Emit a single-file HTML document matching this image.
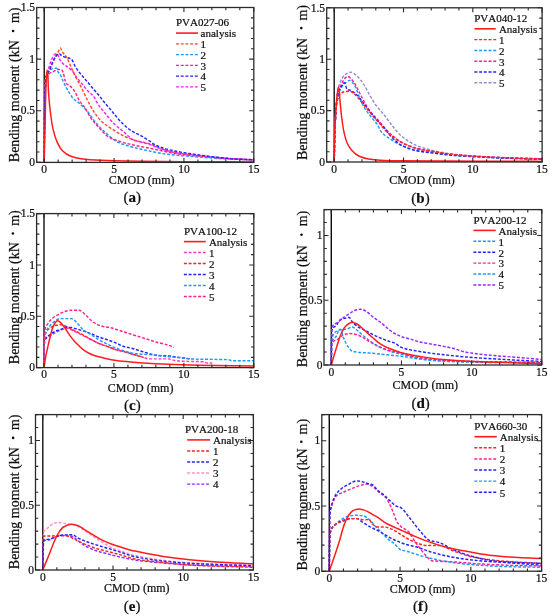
<!DOCTYPE html>
<html><head><meta charset="utf-8"><title>Bending moment vs CMOD</title>
<style>html,body{margin:0;padding:0;background:#fff;width:550px;height:616px;overflow:hidden}
svg text{font-family:"Liberation Serif", serif;stroke:#111;stroke-width:0.22px;paint-order:stroke}</style></head>
<body>
<svg width="550" height="616" viewBox="0 0 550 616" style="display:block">
<defs><filter id="bl" x="0" y="0" width="1" height="1"><feGaussianBlur stdDeviation="0.33"/></filter></defs>
<rect width="550" height="616" fill="#fff"/>
<g filter="url(#bl)">
<g><clipPath id="clipa"><rect x="36.7" y="7.5" width="217.1" height="154.9"/></clipPath>
<g clip-path="url(#clipa)" fill="none" stroke-linejoin="round">
<line x1="44.2" y1="7.5" x2="44.2" y2="162.4" stroke="#111" stroke-width="1.4"/>
<path d="M44.2 162.4C44.34 145.19 44.48 118.41 44.62 110.77C44.95 92.93 45.27 81.56 45.6 79.79C46.95 72.42 48.3 70.86 49.65 69.98C50.91 69.15 52.16 68.72 53.42 68.53C54.49 68.37 55.56 68.22 56.64 68.22C57.15 68.22 57.66 71.17 58.17 72.04C58.92 73.31 59.66 73.63 60.41 74.83C61.34 76.33 62.27 79.3 63.2 81.34C64.28 83.68 65.35 85.96 66.42 87.94C67.68 90.27 68.93 92.28 70.19 94.24C71.12 95.7 72.05 97.39 72.99 98.37C74.99 100.49 76.99 101.28 78.99 103.02C81.88 105.53 84.77 108.48 87.66 111.8C90.59 115.17 93.53 120.1 96.46 123.47C99.81 127.32 103.17 130.68 106.52 133.59C110.39 136.94 114.25 140.57 118.12 142.37C122.5 144.4 126.88 145.48 131.25 146.7C137.31 148.4 143.36 149.76 149.42 151.04C153.94 151.99 158.46 152.95 162.97 153.62C167.17 154.25 171.36 154.76 175.55 155.17C182.07 155.81 188.59 156.2 195.11 156.72C201.63 157.24 208.15 157.86 214.67 158.27C221.43 158.69 228.18 159.03 234.94 159.3C241.22 159.55 247.51 159.72 253.8 159.92" stroke="#1e98ff" stroke-width="1.45" stroke-dasharray="3 1.7"/>
<path d="M44.2 162.4C44.34 145.19 44.48 117.22 44.62 110.77C45.04 91.4 45.46 81.53 45.88 79.79C46.9 75.52 47.93 74.52 48.95 73.69C50.44 72.49 51.93 72.27 53.42 71.53C54.82 70.83 56.22 69.36 57.61 69.36C58.92 69.36 60.22 69.44 61.53 69.67C62.09 69.76 62.64 71.24 63.2 72.66C63.72 73.96 64.23 77.63 64.74 79.27C65.3 81.06 65.86 82.85 66.42 83.5C67.49 84.76 68.56 84.9 69.63 85.78C70.75 86.7 71.87 87.71 72.99 89.08C74.06 90.39 75.13 92.29 76.2 94.24C77.13 95.95 78.06 98.6 78.99 100.13C80.9 103.26 82.81 104.66 84.72 107.46C86.68 110.33 88.64 114.81 90.59 117.58C93.48 121.68 96.37 124.68 99.25 127.81C102.14 130.93 105.03 134.71 107.92 136.48C111.32 138.57 114.72 139.76 118.12 140.92C122.5 142.41 126.88 143.51 131.25 144.53C137.31 145.95 143.36 146.9 149.42 148.15C153.94 149.08 158.46 150.1 162.97 151.04C167.17 151.92 171.36 153.02 175.55 153.62C182.07 154.55 188.59 155.06 195.11 155.69C201.63 156.32 208.15 156.95 214.67 157.44C221.43 157.96 228.18 158.4 234.94 158.79C241.22 159.14 247.51 159.41 253.8 159.72" stroke="#ff2090" stroke-width="1.45" stroke-dasharray="3 1.7"/>
<path d="M44.2 162.4C44.34 145.19 44.48 118.78 44.62 110.77C44.95 92.06 45.27 79.06 45.6 77.72C46.53 73.91 47.46 74.44 48.39 72.56C49.32 70.68 50.26 68.43 51.19 66.36C52.58 63.26 53.98 59.87 55.38 57.07C56.31 55.2 57.24 53.56 58.17 51.9C58.92 50.58 59.66 48.08 60.41 48.08C61.06 48.08 61.71 50.87 62.37 51.9C63.72 54.04 65.07 54.91 66.42 57.07C67.49 58.78 68.56 61.43 69.63 63.78C70.75 66.23 71.87 69.09 72.99 71.53C74.06 73.86 75.13 76.12 76.2 78.13C77.32 80.23 78.43 81.84 79.55 83.92C80.58 85.82 81.6 88 82.63 90.11C84.26 93.47 85.89 97.32 87.52 100.44C89.99 105.17 92.45 109.74 94.92 113.25C97.35 116.69 99.77 119.83 102.19 122.02C105.59 125.11 108.99 127.06 112.39 129.25C116.26 131.74 120.12 134.22 123.99 136.07C127.39 137.69 130.79 139.16 134.19 140.2C139.27 141.74 144.34 142.25 149.42 143.81C153.47 145.06 157.52 147.67 161.58 148.98C166.23 150.48 170.89 151.76 175.55 152.59C182.07 153.75 188.59 154.41 195.11 155.17C201.63 155.94 208.15 156.6 214.67 157.24C221.43 157.9 228.18 158.63 234.94 159.1C241.22 159.53 247.51 159.78 253.8 160.13" stroke="#ff4a2a" stroke-width="1.45" stroke-dasharray="3 1.7"/>
<path d="M44.2 162.4C44.34 145.19 44.48 116.32 44.62 110.77C45.18 88.56 45.74 81.49 46.3 77.72C46.99 73.02 47.69 71.92 48.39 69.46C49.32 66.19 50.26 62.84 51.19 60.68C52.3 58.09 53.42 55.42 54.54 54.59C55.24 54.07 55.94 53.56 56.64 53.56C57.71 53.56 58.78 57.79 59.85 59.55C60.6 60.77 61.34 62.07 62.09 62.85C63.53 64.36 64.97 65.03 66.42 66.16C68.23 67.57 70.05 68.65 71.87 70.49C73.68 72.34 75.5 75.75 77.32 78.13C78.76 80.03 80.2 81.76 81.65 83.5C83.84 86.15 86.03 88.87 88.22 91.25C90.36 93.58 92.5 94.62 94.64 97.76C95.25 98.64 95.85 100.53 96.46 101.58C99.35 106.56 102.24 109.61 105.12 113.25C108.01 116.88 110.9 120.6 113.79 123.47C117.19 126.84 120.59 129.26 123.99 132.14C126.88 134.59 129.76 138.16 132.65 139.47C138.24 142.02 143.83 142.47 149.42 144.33C153.47 145.67 157.52 147.69 161.58 148.98C166.05 150.39 170.52 151.79 174.99 152.59C181.7 153.78 188.4 154.39 195.11 155.17C201.63 155.93 208.15 156.62 214.67 157.24C221.43 157.88 228.18 158.6 234.94 158.99C241.22 159.36 247.51 159.54 253.8 159.82" stroke="#ff1eff" stroke-width="1.45" stroke-dasharray="3 1.7"/>
<path d="M44.2 162.4C44.34 145.19 44.48 116.32 44.62 110.77C45.18 88.56 45.74 80.32 46.3 77.72C47.46 72.31 48.62 72.34 49.79 69.46C50.72 67.15 51.65 64.24 52.58 62.23C53.52 60.22 54.45 58.32 55.38 57.07C56.5 55.56 57.61 53.56 58.73 53.56C59.94 53.56 61.15 55.45 62.37 56.04C63.76 56.71 65.16 57.1 66.56 57.58C68.14 58.13 69.72 58.23 71.31 59.13C72.57 59.85 73.82 64.09 75.08 66.16C76.57 68.6 78.06 70.71 79.55 72.66C81.7 75.46 83.84 77.66 85.98 80.2C88.17 82.79 90.36 85.48 92.55 88.05C94.74 90.61 96.93 92.91 99.12 95.59C100.65 97.47 102.19 99.67 103.73 101.58C106.61 105.16 109.5 108.39 112.39 111.8C115.28 115.21 118.17 119.16 121.05 122.02C124.45 125.4 127.85 128.54 131.25 130.7C134.14 132.53 137.03 133.53 139.92 135.14C143.08 136.9 146.25 138.84 149.42 140.92C151.33 142.17 153.24 144.07 155.15 144.95C161.76 147.99 168.38 149.62 174.99 151.04C181.65 152.47 188.31 153.35 194.97 154.35C201.54 155.33 208.11 156.29 214.67 157.03C221.43 157.8 228.18 158.62 234.94 158.99C241.22 159.34 247.51 159.47 253.8 159.72" stroke="#2424ff" stroke-width="1.45" stroke-dasharray="3 1.7"/>
<path d="M44.2 162.4C44.48 150.35 44.76 138.18 45.04 126.26C45.36 112.34 45.69 92.28 46.02 84.95C46.34 77.62 46.67 69.98 46.99 69.98C47.23 69.98 47.46 71.1 47.69 72.56C47.97 74.3 48.25 87.8 48.53 92.18C49.09 100.93 49.65 106.05 50.21 110.77C51.09 118.24 51.98 124.38 52.86 128.32C54.26 134.54 55.66 138.75 57.06 141.85C58.78 145.67 60.5 148.7 62.23 150.42C65.07 153.25 67.91 155.14 70.75 156.2C74.15 157.47 77.55 158.29 80.95 158.79C83.98 159.22 87 159.52 90.03 159.72C98.04 160.23 106.06 160.54 114.07 160.75C123.38 160.99 132.7 161.14 142.01 161.26C155.99 161.45 169.96 161.61 183.93 161.68C207.22 161.79 230.51 161.81 253.8 161.88" stroke="#ff1c1c" stroke-width="1.5"/>
</g>
<rect x="36.7" y="7.5" width="217.1" height="154.9" fill="none" stroke="#2a2a2a" stroke-width="1.3"/>
<path d="M44.2 162.4v-4.5M44.2 7.5v4.5M58.17 162.4v-2.8M58.17 7.5v2.8M72.15 162.4v-2.8M72.15 7.5v2.8M86.12 162.4v-2.8M86.12 7.5v2.8M100.09 162.4v-2.8M100.09 7.5v2.8M114.07 162.4v-4.5M114.07 7.5v4.5M128.04 162.4v-2.8M128.04 7.5v2.8M142.01 162.4v-2.8M142.01 7.5v2.8M155.99 162.4v-2.8M155.99 7.5v2.8M169.96 162.4v-2.8M169.96 7.5v2.8M183.93 162.4v-4.5M183.93 7.5v4.5M197.91 162.4v-2.8M197.91 7.5v2.8M211.88 162.4v-2.8M211.88 7.5v2.8M225.85 162.4v-2.8M225.85 7.5v2.8M239.83 162.4v-2.8M239.83 7.5v2.8M253.8 162.4v-4.5M253.8 7.5v4.5M36.7 162.4h4.5M253.8 162.4h-4.5M36.7 152.07h2.8M253.8 152.07h-2.8M36.7 141.75h2.8M253.8 141.75h-2.8M36.7 131.42h2.8M253.8 131.42h-2.8M36.7 121.09h2.8M253.8 121.09h-2.8M36.7 110.77h4.5M253.8 110.77h-4.5M36.7 100.44h2.8M253.8 100.44h-2.8M36.7 90.11h2.8M253.8 90.11h-2.8M36.7 79.79h2.8M253.8 79.79h-2.8M36.7 69.46h2.8M253.8 69.46h-2.8M36.7 59.13h4.5M253.8 59.13h-4.5M36.7 48.81h2.8M253.8 48.81h-2.8M36.7 38.48h2.8M253.8 38.48h-2.8M36.7 28.15h2.8M253.8 28.15h-2.8M36.7 17.83h2.8M253.8 17.83h-2.8M36.7 7.5h4.5M253.8 7.5h-4.5" stroke="#2a2a2a" stroke-width="1.1" fill="none"/>
<g font-size="11.5" fill="#111"><text x="44.2" y="172.9" text-anchor="middle">0</text><text x="114.07" y="172.9" text-anchor="middle">5</text><text x="183.93" y="172.9" text-anchor="middle">10</text><text x="253.8" y="172.9" text-anchor="middle">15</text><text x="35.1" y="166.1" text-anchor="end">0</text><text x="35.1" y="114.47" text-anchor="end">0.5</text><text x="35.1" y="62.83" text-anchor="end">1</text><text x="35.1" y="11.2" text-anchor="end">1.5</text></g>
<text transform="translate(18.5 162.2) rotate(-90)" font-size="14" fill="#111">Bending moment (kN</text>
<circle cx="13.1" cy="31" r="1.3" fill="#111"/>
<text transform="translate(18.5 23.1) rotate(-90)" font-size="14" fill="#111">m)</text>
<text x="141.7" y="184.4" text-anchor="middle" font-size="12" fill="#111">CMOD (mm)</text>
<text x="132.2" y="201.8" text-anchor="middle" font-size="15" fill="#111">(<tspan font-weight="bold">a</tspan>)</text>
<g font-size="11" fill="#111" style="font-kerning:none"><text x="175.9" y="26.1">PVA027-06</text><line x1="176" y1="33.1" x2="198" y2="33.1" stroke="#ff1c1c" stroke-width="1.6"/><text x="200.6" y="37.4">analysis</text><line x1="176" y1="43.85" x2="198.2" y2="43.85" stroke="#ff4a2a" stroke-width="1.45" stroke-dasharray="3 1.7"/><text x="200.6" y="48.15">1</text><line x1="176" y1="54.6" x2="198.2" y2="54.6" stroke="#1e98ff" stroke-width="1.45" stroke-dasharray="3 1.7"/><text x="200.6" y="58.9">2</text><line x1="176" y1="65.35" x2="198.2" y2="65.35" stroke="#ff2090" stroke-width="1.45" stroke-dasharray="3 1.7"/><text x="200.6" y="69.65">3</text><line x1="176" y1="76.1" x2="198.2" y2="76.1" stroke="#2424ff" stroke-width="1.45" stroke-dasharray="3 1.7"/><text x="200.6" y="80.4">4</text><line x1="176" y1="86.85" x2="198.2" y2="86.85" stroke="#ff1eff" stroke-width="1.45" stroke-dasharray="3 1.7"/><text x="200.6" y="91.15">5</text></g></g>
<g><clipPath id="clipb"><rect x="326.7" y="7.8" width="215.4" height="154.2"/></clipPath>
<g clip-path="url(#clipb)" fill="none" stroke-linejoin="round">
<line x1="334.2" y1="7.8" x2="334.2" y2="162" stroke="#111" stroke-width="1.4"/>
<path d="M334.2 162C334.43 151.72 334.66 137.37 334.89 131.16C335.59 112.52 336.28 100.14 336.97 95.18C337.8 89.23 338.64 86.39 339.47 84.18C341.13 79.77 342.79 76.67 344.46 75.34C346.58 73.64 348.71 72.15 350.83 72.15C353 72.15 355.17 74.59 357.35 76.47C359.43 78.27 361.5 81.14 363.58 84.18C365.71 87.29 367.83 92 369.96 95.59C372.08 99.18 374.21 102.88 376.33 105.77C378.88 109.22 381.42 111.54 383.96 114.71C386.27 117.6 388.58 121.11 390.89 123.96C394.54 128.47 398.19 133.43 401.84 136.4C406.69 140.36 411.54 143.46 416.39 145.45C422.44 147.93 428.49 149.53 434.55 150.9C440.6 152.27 446.65 153.45 452.7 154.19C461.2 155.22 469.7 155.96 478.21 156.45C487.95 157.01 497.7 157.34 507.45 157.68C519 158.09 530.55 158.37 542.1 158.71" stroke="#8e8ed0" stroke-width="1.45" stroke-dasharray="3 1.7"/>
<path d="M334.2 162C334.43 151.72 334.66 136.77 334.89 131.16C335.59 114.34 336.28 104.02 336.97 100.32C338.36 92.92 339.74 90.4 341.13 87.98C342.52 85.57 343.9 83.93 345.29 82.84C346.72 81.72 348.15 80.38 349.58 80.38C351.29 80.38 353 83.07 354.71 85.52C356.42 87.96 358.13 94.44 359.84 98.26C361.5 101.99 363.17 105.71 364.83 108.44C367 112.01 369.17 114.36 371.34 117.28C373.89 120.7 376.43 122.53 378.97 127.46C379.29 128.09 379.61 129.54 379.94 130.03C383.59 135.53 387.24 136.91 390.89 139.38C394.54 141.86 398.19 144.05 401.84 145.55C406.69 147.55 411.54 149.21 416.39 150.18C422.44 151.38 428.49 151.91 434.55 152.75C440.6 153.59 446.65 154.67 452.7 155.22C461.2 155.97 469.7 156.38 478.21 156.86C487.95 157.41 497.7 157.94 507.45 158.3C519 158.73 530.55 158.98 542.1 159.33" stroke="#1e98ff" stroke-width="1.45" stroke-dasharray="3 1.7"/>
<path d="M334.2 162C334.43 151.72 334.66 137.02 334.89 131.16C335.59 113.59 336.28 102.26 336.97 98.26C338.36 90.27 339.74 88.05 341.13 84.9C342.28 82.28 343.44 79.93 344.59 78.73C345.61 77.68 346.63 76.47 347.64 76.47C349.58 76.47 351.52 79.29 353.47 81.61C355.13 83.6 356.79 87.42 358.45 90.55C360.16 93.77 361.87 97.69 363.58 100.73C365.71 104.51 367.83 108.07 369.96 110.91C372.96 114.92 375.96 117.6 378.97 121.09C381.09 123.56 383.22 126.38 385.34 128.69C387.19 130.7 389.04 132.63 390.89 134.24C394.54 137.43 398.19 140.57 401.84 142.47C406.69 144.99 411.54 146.83 416.39 148.12C422.44 149.73 428.49 150.72 434.55 151.72C440.6 152.72 446.65 153.66 452.7 154.29C461.2 155.18 469.7 155.8 478.21 156.35C487.95 156.97 497.7 157.51 507.45 157.89C519 158.33 530.55 158.57 542.1 158.92" stroke="#ff2090" stroke-width="1.45" stroke-dasharray="3 1.7"/>
<path d="M334.2 162C334.43 151.72 334.66 136.77 334.89 131.16C335.59 114.34 336.28 104.51 336.97 100.32C338.13 93.33 339.28 90.18 340.44 87.98C341.78 85.43 343.12 82.84 344.46 82.84C345.33 82.84 346.21 88.79 347.09 89.32C348.34 90.08 349.58 90 350.83 90.55C353 91.52 355.17 93.52 357.35 95.59C359.43 97.57 361.5 100.66 363.58 103.3C366.17 106.59 368.76 110.27 371.34 113.48C373.89 116.62 376.43 119.68 378.97 122.42C380.63 124.22 382.29 125.6 383.96 127.46C386.27 130.05 388.58 133.92 390.89 136.3C394.54 140.07 398.19 143.7 401.84 145.55C406.69 148.02 411.54 149.7 416.39 150.69C422.44 151.93 428.49 152.5 434.55 153.26C440.6 154.02 446.65 154.83 452.7 155.32C461.2 156 469.7 156.42 478.21 156.86C487.95 157.37 497.7 157.87 507.45 158.2C519 158.59 530.55 158.81 542.1 159.12" stroke="#2424ff" stroke-width="1.45" stroke-dasharray="3 1.7"/>
<path d="M334.2 162C334.43 151.72 334.66 136.51 334.89 131.16C335.59 115.12 336.28 105.43 336.97 102.38C338.22 96.87 339.47 94.21 340.71 93.33C341.96 92.45 343.21 92.03 344.46 91.79C346.17 91.46 347.88 91.17 349.58 91.17C350.88 91.17 352.17 92.26 353.47 93.12C355.13 94.23 356.79 96.4 358.45 98.26C360.16 100.17 361.87 102.43 363.58 104.53C365.29 106.64 367 108.83 368.71 110.91C370.84 113.5 372.96 116.14 375.09 118.52C376.7 120.33 378.32 121.7 379.94 123.66C380.86 124.77 381.79 126.39 382.71 127.46C385.44 130.62 388.16 133.1 390.89 135.27C394.54 138.19 398.19 140.79 401.84 142.67C406.69 145.18 411.54 147.45 416.39 148.64C422.44 150.11 428.49 150.75 434.55 151.72C440.6 152.69 446.65 153.87 452.7 154.5C461.2 155.38 469.7 155.94 478.21 156.45C487.95 157.04 497.7 157.52 507.45 157.89C519 158.32 530.55 158.57 542.1 158.92" stroke="#ff2424" stroke-width="1.45" stroke-dasharray="3 1.7"/>
<path d="M334.2 162C334.34 153.43 334.48 141.45 334.62 136.3C334.85 127.72 335.08 123.17 335.31 118.82C335.59 113.6 335.86 109.89 336.14 106.49C336.65 100.26 337.16 94.33 337.66 91.07C337.94 89.29 338.22 86.96 338.5 86.96C338.73 86.96 338.96 88.53 339.19 90.04C339.47 91.85 339.74 97.74 340.02 100.94C340.53 106.79 341.04 112.16 341.55 116.25C342.33 122.57 343.12 128.02 343.9 131.67C344.92 136.4 345.93 140.13 346.95 142.47C348.52 146.08 350.09 148.45 351.66 150.18C354.2 152.97 356.75 155.15 359.29 156.24C362.38 157.57 365.48 158.42 368.57 158.92C372.36 159.52 376.15 159.98 379.94 160.15C387.79 160.51 395.65 160.67 403.5 160.77C417.36 160.94 431.22 160.99 445.08 161.07C458.94 161.16 472.8 161.24 486.66 161.28C505.14 161.33 523.62 161.35 542.1 161.38" stroke="#ff1c1c" stroke-width="1.5"/>
</g>
<rect x="326.7" y="7.8" width="215.4" height="154.2" fill="none" stroke="#2a2a2a" stroke-width="1.3"/>
<path d="M334.2 162v-4.5M334.2 7.8v4.5M348.06 162v-2.8M348.06 7.8v2.8M361.92 162v-2.8M361.92 7.8v2.8M375.78 162v-2.8M375.78 7.8v2.8M389.64 162v-2.8M389.64 7.8v2.8M403.5 162v-4.5M403.5 7.8v4.5M417.36 162v-2.8M417.36 7.8v2.8M431.22 162v-2.8M431.22 7.8v2.8M445.08 162v-2.8M445.08 7.8v2.8M458.94 162v-2.8M458.94 7.8v2.8M472.8 162v-4.5M472.8 7.8v4.5M486.66 162v-2.8M486.66 7.8v2.8M500.52 162v-2.8M500.52 7.8v2.8M514.38 162v-2.8M514.38 7.8v2.8M528.24 162v-2.8M528.24 7.8v2.8M542.1 162v-4.5M542.1 7.8v4.5M326.7 162h4.5M542.1 162h-4.5M326.7 151.72h2.8M542.1 151.72h-2.8M326.7 141.44h2.8M542.1 141.44h-2.8M326.7 131.16h2.8M542.1 131.16h-2.8M326.7 120.88h2.8M542.1 120.88h-2.8M326.7 110.6h4.5M542.1 110.6h-4.5M326.7 100.32h2.8M542.1 100.32h-2.8M326.7 90.04h2.8M542.1 90.04h-2.8M326.7 79.76h2.8M542.1 79.76h-2.8M326.7 69.48h2.8M542.1 69.48h-2.8M326.7 59.2h4.5M542.1 59.2h-4.5M326.7 48.92h2.8M542.1 48.92h-2.8M326.7 38.64h2.8M542.1 38.64h-2.8M326.7 28.36h2.8M542.1 28.36h-2.8M326.7 18.08h2.8M542.1 18.08h-2.8M326.7 7.8h4.5M542.1 7.8h-4.5" stroke="#2a2a2a" stroke-width="1.1" fill="none"/>
<g font-size="11.5" fill="#111"><text x="334.2" y="172.5" text-anchor="middle">0</text><text x="403.5" y="172.5" text-anchor="middle">5</text><text x="472.8" y="172.5" text-anchor="middle">10</text><text x="542.1" y="172.5" text-anchor="middle">15</text><text x="325.1" y="165.7" text-anchor="end">0</text><text x="325.1" y="114.3" text-anchor="end">0.5</text><text x="325.1" y="62.9" text-anchor="end">1</text><text x="325.1" y="11.5" text-anchor="end">1.5</text></g>
<text transform="translate(306.5 160) rotate(-90)" font-size="14" fill="#111">Bending moment (kN</text>
<circle cx="301.3" cy="28.1" r="1.3" fill="#111"/>
<text transform="translate(306.5 20.6) rotate(-90)" font-size="14" fill="#111">m)</text>
<text x="422" y="184.2" text-anchor="middle" font-size="12" fill="#111">CMOD (mm)</text>
<text x="420.5" y="202.7" text-anchor="middle" font-size="15" fill="#111">(<tspan font-weight="bold">b</tspan>)</text>
<g font-size="11" fill="#111" style="font-kerning:none"><text x="474.2" y="22">PVA040-12</text><line x1="474.4" y1="28.8" x2="495.7" y2="28.8" stroke="#ff1c1c" stroke-width="1.6"/><text x="498.9" y="33.1">Analysis</text><line x1="474.4" y1="39.6" x2="496.6" y2="39.6" stroke="#ff2424" stroke-width="1.45" stroke-dasharray="3 1.7"/><text x="498.9" y="43.9">1</text><line x1="474.4" y1="50.4" x2="496.6" y2="50.4" stroke="#1e98ff" stroke-width="1.45" stroke-dasharray="3 1.7"/><text x="498.9" y="54.7">2</text><line x1="474.4" y1="61.2" x2="496.6" y2="61.2" stroke="#ff2090" stroke-width="1.45" stroke-dasharray="3 1.7"/><text x="498.9" y="65.5">3</text><line x1="474.4" y1="72" x2="496.6" y2="72" stroke="#2424ff" stroke-width="1.45" stroke-dasharray="3 1.7"/><text x="498.9" y="76.3">4</text><line x1="474.4" y1="82.8" x2="496.6" y2="82.8" stroke="#8e8ed0" stroke-width="1.45" stroke-dasharray="3 1.7"/><text x="498.9" y="87.1">5</text></g></g>
<g><clipPath id="clipc"><rect x="36.6" y="213.6" width="217.2" height="154"/></clipPath>
<g clip-path="url(#clipc)" fill="none" stroke-linejoin="round">
<line x1="44" y1="213.6" x2="44" y2="367.6" stroke="#111" stroke-width="1.4"/>
<path d="M44 367.6C44.09 360.76 44.19 350.23 44.28 347.07C44.37 343.91 44.47 341.13 44.56 340.91C46.24 336.92 47.92 337.64 49.59 336.39C51.55 334.93 53.51 333.77 55.47 332.69C57.43 331.62 59.39 330.46 61.34 329.82C63.3 329.18 65.26 328.38 67.22 328.38C69.13 328.38 71.04 329.72 72.95 330.54C75.89 331.79 78.83 333.5 81.76 334.95C84.7 336.41 87.64 337.82 90.58 339.26C93.47 340.69 96.36 342.4 99.25 343.58C102.14 344.75 105.03 345.5 107.92 346.55C111.09 347.71 114.26 349.55 117.43 350.25C118.88 350.57 120.32 350.67 121.77 350.97C125.68 351.77 129.6 353.44 133.51 354.56C136.92 355.54 140.32 356.27 143.72 357.33C145.17 357.79 146.62 358.87 148.06 358.87C154.87 358.87 161.67 358.87 168.48 358.87C170.44 358.87 172.4 360.09 174.36 360.41C176.36 360.74 178.37 361.02 180.37 361.13C188.2 361.56 196.04 361.29 203.87 361.85C205.03 361.93 206.2 363.08 207.36 363.08C209 363.08 210.63 363.08 212.26 363.08" stroke="#ff38c8" stroke-width="1.45" stroke-dasharray="3 1.7"/>
<path d="M44 367.6C44.09 360.07 44.19 349.03 44.28 345.01C44.37 341 44.47 337.2 44.56 336.8C46.24 329.56 47.92 329.67 49.59 328.38C51.55 326.88 53.51 325.93 55.47 325.51C57.43 325.08 59.39 324.69 61.34 324.69C63.3 324.69 65.26 326.09 67.22 326.94C69.13 327.78 71.04 328.86 72.95 329.82C75.89 331.29 78.83 332.67 81.76 334.23C84.7 335.8 87.64 337.7 90.58 339.26C93.47 340.8 96.36 342.36 99.25 343.58C102.65 345.01 106.05 346.04 109.46 347.27C112.12 348.23 114.77 349.4 117.43 350.15C118.88 350.55 120.32 350.8 121.77 351.17C125.68 352.18 129.6 353.43 133.51 354.56C136.92 355.55 140.32 356.55 143.72 357.54" stroke="#ff2424" stroke-width="1.45" stroke-dasharray="3 1.7"/>
<path d="M44 367.6C44.09 360.76 44.19 350.31 44.28 347.07C44.37 343.83 44.47 340.98 44.56 340.7C46.24 335.7 47.92 336.32 49.59 334.95C51.55 333.35 53.51 332.16 55.47 331.26C57.43 330.35 59.39 329.82 61.34 329.1C63.3 328.38 65.26 326.94 67.22 326.94C69.64 326.94 72.07 327.81 74.49 328.38C76.92 328.96 79.34 329.77 81.76 330.54C84.7 331.46 87.64 332.42 90.58 333.51C93.47 334.59 96.36 336.04 99.25 337.11C102.14 338.17 105.03 338.96 107.92 339.98C111.09 341.1 114.26 342.16 117.43 343.58C118.88 344.22 120.32 345.33 121.77 345.83C125.68 347.22 129.6 347.63 133.51 348.71C137.38 349.78 141.25 351.33 145.12 352.41C148.99 353.48 152.86 354.9 156.73 355.28C160.65 355.66 164.57 355.67 168.48 356C172.35 356.32 176.22 357.04 180.09 357.54C183.87 358.03 187.64 358.5 191.42 358.98" stroke="#2424ff" stroke-width="1.45" stroke-dasharray="3 1.7"/>
<path d="M44 367.6C44.09 360.07 44.19 348.65 44.28 345.01C44.37 341.38 44.47 338.35 44.56 337.83C46.24 328.37 47.92 328.53 49.59 326.23C51.09 324.18 52.58 322.88 54.07 321.81C55.98 320.44 57.89 318.63 59.8 318.63C63.72 318.63 67.64 318.63 71.55 318.63C73.51 318.63 75.47 321.51 77.43 323.35C79.34 325.15 81.25 328.31 83.16 329.82C85.63 331.77 88.1 332.69 90.58 334.23C93.47 336.04 96.36 338.32 99.25 339.98C102.14 341.65 105.03 343.01 107.92 344.4C111.09 345.92 114.26 347.47 117.43 348.71C118.88 349.28 120.32 349.81 121.77 350.25C126.61 351.71 131.46 353.38 136.31 353.84C140.23 354.22 144.14 354.27 148.06 354.56C154.87 355.08 161.67 356.12 168.48 356.72C172.44 357.07 176.41 357.27 180.37 357.64C184.05 357.99 187.74 358.83 191.42 358.98C196.04 359.15 200.65 359.19 205.27 359.28C213.05 359.44 220.84 359.35 228.62 359.69C229.6 359.74 230.58 360.72 231.56 360.72C239.91 360.72 248.25 360.72 256.6 360.72" stroke="#1e98ff" stroke-width="1.45" stroke-dasharray="3 1.7"/>
<path d="M44 367.6C44.09 359.04 44.19 346.72 44.28 341.93C44.37 337.15 44.47 332.53 44.56 331.97C45.77 324.79 46.98 325.28 48.2 323.35C49.64 321.05 51.09 319.42 52.53 318.22C54.49 316.58 56.45 315.6 58.41 314.52C60.36 313.44 62.32 312.21 64.28 311.65C66.71 310.95 69.13 310.21 71.55 310.21C73.98 310.21 76.4 310.21 78.83 310.21C81.25 310.21 83.68 313.34 86.1 315.34C88.29 317.15 90.48 320.4 92.67 321.81C95.84 323.86 99.01 325.46 102.18 326.23C104.84 326.87 107.5 326.99 110.16 327.56C114.03 328.39 117.9 330.03 121.77 331.26C125.68 332.5 129.6 333.73 133.51 334.95C137.38 336.16 141.25 337.33 145.12 338.55C148.99 339.76 152.86 341.17 156.73 342.24C160.65 343.33 164.57 343.91 168.48 345.12C170.35 345.69 172.21 346.55 174.08 347.27" stroke="#ff2090" stroke-width="1.45" stroke-dasharray="3 1.7"/>
<path d="M44 367.6C44.63 363.6 45.27 358.95 45.9 355.59C46.76 351.04 47.62 347.73 48.48 343.99C48.94 341.95 49.41 339.99 49.87 338.03C50.39 335.88 50.9 333.43 51.41 331.67C51.93 329.91 52.44 328.38 52.95 327.15C53.65 325.47 54.35 323.85 55.05 322.94C55.8 321.97 56.54 320.78 57.29 320.78C58.13 320.78 58.97 321.39 59.8 321.91C60.64 322.44 61.48 323.51 62.32 324.48C63.21 325.51 64.09 326.81 64.98 328.07C66.52 330.27 68.06 333.04 69.6 335.16C71.13 337.27 72.67 339.17 74.21 340.91C75.7 342.59 77.2 344.1 78.69 345.53C80.51 347.26 82.32 349.11 84.14 350.35C87.08 352.35 90.02 353.99 92.95 355.07C96.82 356.5 100.69 357.38 104.56 358.26C107.92 359.02 111.28 359.72 114.63 360.21C118.5 360.77 122.37 361.16 126.24 361.54C130.62 361.97 135.01 362.37 139.39 362.67C149.09 363.35 158.78 363.95 168.48 364.31C178.27 364.68 188.06 364.93 197.85 365.14C216.5 365.53 235.15 365.75 253.8 366.06" stroke="#ff1c1c" stroke-width="1.5"/>
</g>
<rect x="36.6" y="213.6" width="217.2" height="154" fill="none" stroke="#2a2a2a" stroke-width="1.3"/>
<path d="M44 367.6v-4.5M44 213.6v4.5M57.99 367.6v-2.8M57.99 213.6v2.8M71.97 367.6v-2.8M71.97 213.6v2.8M85.96 367.6v-2.8M85.96 213.6v2.8M99.95 367.6v-2.8M99.95 213.6v2.8M113.93 367.6v-4.5M113.93 213.6v4.5M127.92 367.6v-2.8M127.92 213.6v2.8M141.91 367.6v-2.8M141.91 213.6v2.8M155.89 367.6v-2.8M155.89 213.6v2.8M169.88 367.6v-2.8M169.88 213.6v2.8M183.87 367.6v-4.5M183.87 213.6v4.5M197.85 367.6v-2.8M197.85 213.6v2.8M211.84 367.6v-2.8M211.84 213.6v2.8M225.83 367.6v-2.8M225.83 213.6v2.8M239.81 367.6v-2.8M239.81 213.6v2.8M253.8 367.6v-4.5M253.8 213.6v4.5M36.6 367.6h4.5M253.8 367.6h-4.5M36.6 357.33h2.8M253.8 357.33h-2.8M36.6 347.07h2.8M253.8 347.07h-2.8M36.6 336.8h2.8M253.8 336.8h-2.8M36.6 326.53h2.8M253.8 326.53h-2.8M36.6 316.27h4.5M253.8 316.27h-4.5M36.6 306h2.8M253.8 306h-2.8M36.6 295.73h2.8M253.8 295.73h-2.8M36.6 285.47h2.8M253.8 285.47h-2.8M36.6 275.2h2.8M253.8 275.2h-2.8M36.6 264.93h4.5M253.8 264.93h-4.5M36.6 254.67h2.8M253.8 254.67h-2.8M36.6 244.4h2.8M253.8 244.4h-2.8M36.6 234.13h2.8M253.8 234.13h-2.8M36.6 223.87h2.8M253.8 223.87h-2.8M36.6 213.6h4.5M253.8 213.6h-4.5" stroke="#2a2a2a" stroke-width="1.1" fill="none"/>
<g font-size="11.5" fill="#111"><text x="44" y="378.1" text-anchor="middle">0</text><text x="113.93" y="378.1" text-anchor="middle">5</text><text x="183.87" y="378.1" text-anchor="middle">10</text><text x="253.8" y="378.1" text-anchor="middle">15</text><text x="35" y="371.3" text-anchor="end">0</text><text x="35" y="319.97" text-anchor="end">0.5</text><text x="35" y="268.63" text-anchor="end">1</text><text x="35" y="217.3" text-anchor="end">1.5</text></g>
<text transform="translate(18.5 364.2) rotate(-90)" font-size="14" fill="#111">Bending moment (kN</text>
<circle cx="12.9" cy="233.5" r="1.3" fill="#111"/>
<text transform="translate(18.5 225.8) rotate(-90)" font-size="14" fill="#111">m)</text>
<text x="140.6" y="391.7" text-anchor="middle" font-size="12" fill="#111">CMOD (mm)</text>
<text x="132.3" y="409.5" text-anchor="middle" font-size="15" fill="#111">(<tspan font-weight="bold">c</tspan>)</text>
<g font-size="11" fill="#111" style="font-kerning:none"><text x="183.9" y="235.2">PVA100-12</text><line x1="183.9" y1="241.6" x2="205.7" y2="241.6" stroke="#ff1c1c" stroke-width="1.6"/><text x="208.9" y="245.9">Analysis</text><line x1="183.9" y1="252.58" x2="206.1" y2="252.58" stroke="#ff38c8" stroke-width="1.45" stroke-dasharray="3 1.7"/><text x="208.9" y="256.88">1</text><line x1="183.9" y1="263.56" x2="206.1" y2="263.56" stroke="#ff2424" stroke-width="1.45" stroke-dasharray="3 1.7"/><text x="208.9" y="267.86">2</text><line x1="183.9" y1="274.54" x2="206.1" y2="274.54" stroke="#2424ff" stroke-width="1.45" stroke-dasharray="3 1.7"/><text x="208.9" y="278.84">3</text><line x1="183.9" y1="285.52" x2="206.1" y2="285.52" stroke="#1e98ff" stroke-width="1.45" stroke-dasharray="3 1.7"/><text x="208.9" y="289.82">4</text><line x1="183.9" y1="296.5" x2="206.1" y2="296.5" stroke="#ff2090" stroke-width="1.45" stroke-dasharray="3 1.7"/><text x="208.9" y="300.8">5</text></g></g>
<g><clipPath id="clipd"><rect x="324" y="209.6" width="217.8" height="155.4"/></clipPath>
<g clip-path="url(#clipd)" fill="none" stroke-linejoin="round">
<line x1="331.3" y1="209.6" x2="331.3" y2="365" stroke="#111" stroke-width="1.4"/>
<path d="M331.3 365C331.39 358.96 331.49 349.34 331.58 346.87C331.67 344.4 331.77 342.52 331.86 342.21C333.31 337.42 334.76 338.85 336.21 336.38C337.19 334.71 338.18 330.47 339.16 329.78C339.63 329.44 340.09 329.13 340.56 329.13C341.54 329.13 342.53 335.44 343.51 337.81C344.96 341.3 346.41 344.46 347.86 346.48C349.31 348.5 350.76 350.67 352.21 351.14C354.64 351.93 357.07 352.2 359.51 352.44C362.88 352.76 366.24 352.83 369.61 353.09C374.48 353.46 379.34 354.02 384.21 354.51C391.22 355.22 398.24 355.77 405.26 356.71C408.76 357.18 412.27 358.04 415.78 358.52C423.73 359.62 431.69 360.71 439.64 361.12C450.3 361.66 460.97 361.96 471.63 362.15C495.02 362.56 518.41 362.67 541.8 362.93" stroke="#1e98ff" stroke-width="1.45" stroke-dasharray="3 1.7"/>
<path d="M331.3 365C331.39 357.66 331.49 345.78 331.58 342.99C331.67 340.19 331.77 338.03 331.86 337.81C334.76 330.7 337.66 330.32 340.56 329.78C342.53 329.41 344.49 329.46 346.46 329.13C348.37 328.8 350.29 326.93 352.21 326.93C353.66 326.93 355.11 328.7 356.56 329.78C358.52 331.24 360.49 333.31 362.45 334.96C364.84 336.95 367.23 338.93 369.61 340.65C372.56 342.79 375.5 344.93 378.45 346.48C381.82 348.26 385.19 349.76 388.56 350.88C392.39 352.17 396.23 353.13 400.06 353.99C401.79 354.38 403.52 354.64 405.26 355.03C408.76 355.82 412.27 357.3 415.78 357.88C423.73 359.18 431.69 359.99 439.64 360.47C450.3 361.11 460.97 361.54 471.63 361.76C495.02 362.25 518.41 362.37 541.8 362.67" stroke="#1e98ff" stroke-width="1.45" stroke-dasharray="3 1.7"/>
<path d="M331.3 365C331.39 359.39 331.49 350.7 331.58 348.17C331.67 345.63 331.77 343.41 331.86 343.24C333.78 339.78 335.7 340.72 337.62 339.36C339.58 337.97 341.54 335.69 343.51 334.96C345.43 334.24 347.34 333.53 349.26 333.53C351.23 333.53 353.19 333.84 355.16 334.18C357.07 334.51 358.99 335.5 360.91 336.38C363.81 337.71 366.71 339.89 369.61 341.56C372.56 343.26 375.5 345.16 378.45 346.48C381.82 347.99 385.19 349.27 388.56 350.24C394.12 351.83 399.69 352.53 405.26 353.99C408.76 354.91 412.27 356.63 415.78 357.23C423.73 358.59 431.69 359.28 439.64 359.82C450.3 360.55 460.97 361.12 471.63 361.37C495.02 361.94 518.41 362.06 541.8 362.41" stroke="#ff2090" stroke-width="1.45" stroke-dasharray="3 1.7"/>
<path d="M331.3 365C331.39 356.37 331.49 343.38 331.58 339.1C331.67 334.82 331.77 330.84 331.86 330.55C333.31 326.1 334.76 327.32 336.21 325.5C337.66 323.68 339.11 320.25 340.56 319.55C342.01 318.84 343.46 318.57 344.91 318.25C346.36 317.93 347.81 317.47 349.26 317.47C350.25 317.47 351.23 320.63 352.21 321.75C354.13 323.93 356.05 325.72 357.96 326.93C359.93 328.16 361.89 328.79 363.86 329.78C365.78 330.73 367.69 331.78 369.61 332.75C372.56 334.25 375.5 335.85 378.45 337.16C381.35 338.45 384.25 339.58 387.15 340.65C390.05 341.73 392.95 342.19 395.85 343.63C397.26 344.33 398.66 346.27 400.06 346.87C405.3 349.09 410.54 349.91 415.78 350.88C423.73 352.36 431.69 353.3 439.64 354.25C448.43 355.3 457.23 356.25 466.02 356.97C474.81 357.7 483.61 358.24 492.4 358.78C508.87 359.8 525.33 360.6 541.8 361.5" stroke="#2424ff" stroke-width="1.45" stroke-dasharray="3 1.7"/>
<path d="M331.3 365C331.39 355.5 331.49 341.04 331.58 336.51C331.67 331.98 331.77 327.8 331.86 327.57C333.78 322.98 335.7 324.19 337.62 322.52C339.58 320.82 341.54 318.9 343.51 317.47C345.43 316.08 347.34 315.04 349.26 313.85C351.23 312.62 353.19 310.77 355.16 310.22C357.07 309.69 358.99 309.19 360.91 309.19C362.83 309.19 364.75 310.55 366.66 311.65C368.63 312.77 370.59 315.19 372.56 316.7C374.99 318.57 377.42 319.9 379.86 321.75C382.76 323.95 385.66 326.96 388.56 329.13C391.46 331.3 394.36 333.61 397.26 334.96C399.92 336.19 402.59 337.04 405.26 337.81C407.03 338.31 408.81 338.61 410.59 339.1C413.21 339.83 415.83 341.06 418.45 341.69C421.96 342.53 425.46 342.97 428.97 343.63C436.92 345.14 444.88 346.39 452.83 348.29C457.23 349.35 461.62 351.38 466.02 352.18C474.81 353.78 483.61 354.57 492.4 355.42C501.2 356.26 509.99 356.76 518.79 357.49C526.69 358.14 534.6 358.87 542.5 359.56" stroke="#9426ff" stroke-width="1.45" stroke-dasharray="3 1.7"/>
<path d="M331.3 365C333.03 359.17 334.76 352.93 336.49 347.52C338.18 342.25 339.86 336.09 341.54 332.75C343.18 329.51 344.82 326.75 346.46 325.37C348.33 323.8 350.2 322.14 352.07 322.14C353.99 322.14 355.91 323.41 357.82 324.47C360.02 325.68 362.22 328.34 364.42 330.29C367.13 332.7 369.84 335.24 372.56 337.55C375.27 339.85 377.98 342.47 380.7 344.15C384.02 346.21 387.34 347.73 390.66 349.07C393.94 350.4 397.21 351.51 400.48 352.44C403.71 353.35 406.94 354.12 410.17 354.77C413.44 355.43 416.72 355.95 419.99 356.45C426.54 357.47 433.09 358.57 439.64 359.17C452.83 360.39 466.02 361.24 479.21 361.76C500.07 362.58 520.94 362.88 541.8 363.45" stroke="#ff1c1c" stroke-width="1.5"/>
</g>
<rect x="324" y="209.6" width="217.8" height="155.4" fill="none" stroke="#2a2a2a" stroke-width="1.3"/>
<path d="M331.3 365v-4.5M331.3 209.6v4.5M345.33 365v-2.8M345.33 209.6v2.8M359.37 365v-2.8M359.37 209.6v2.8M373.4 365v-2.8M373.4 209.6v2.8M387.43 365v-2.8M387.43 209.6v2.8M401.47 365v-4.5M401.47 209.6v4.5M415.5 365v-2.8M415.5 209.6v2.8M429.53 365v-2.8M429.53 209.6v2.8M443.57 365v-2.8M443.57 209.6v2.8M457.6 365v-2.8M457.6 209.6v2.8M471.63 365v-4.5M471.63 209.6v4.5M485.67 365v-2.8M485.67 209.6v2.8M499.7 365v-2.8M499.7 209.6v2.8M513.73 365v-2.8M513.73 209.6v2.8M527.77 365v-2.8M527.77 209.6v2.8M541.8 365v-4.5M541.8 209.6v4.5M324 365h4.5M541.8 365h-4.5M324 352.05h2.8M541.8 352.05h-2.8M324 339.1h2.8M541.8 339.1h-2.8M324 326.15h2.8M541.8 326.15h-2.8M324 313.2h2.8M541.8 313.2h-2.8M324 300.25h4.5M541.8 300.25h-4.5M324 287.3h2.8M541.8 287.3h-2.8M324 274.35h2.8M541.8 274.35h-2.8M324 261.4h2.8M541.8 261.4h-2.8M324 248.45h2.8M541.8 248.45h-2.8M324 235.5h4.5M541.8 235.5h-4.5M324 222.55h2.8M541.8 222.55h-2.8M324 209.6h2.8M541.8 209.6h-2.8" stroke="#2a2a2a" stroke-width="1.1" fill="none"/>
<g font-size="11.5" fill="#111"><text x="331.3" y="375.5" text-anchor="middle">0</text><text x="401.47" y="375.5" text-anchor="middle">5</text><text x="471.63" y="375.5" text-anchor="middle">10</text><text x="541.8" y="375.5" text-anchor="middle">15</text><text x="322.4" y="368.7" text-anchor="end">0</text><text x="322.4" y="303.95" text-anchor="end">0.5</text><text x="322.4" y="239.2" text-anchor="end">1</text></g>
<text transform="translate(306.5 367.2) rotate(-90)" font-size="14" fill="#111">Bending moment (kN</text>
<circle cx="301.5" cy="234.7" r="1.3" fill="#111"/>
<text transform="translate(306.5 226.3) rotate(-90)" font-size="14" fill="#111">m)</text>
<text x="425.3" y="388.9" text-anchor="middle" font-size="12" fill="#111">CMOD (mm)</text>
<text x="420.7" y="408.4" text-anchor="middle" font-size="15" fill="#111">(<tspan font-weight="bold">d</tspan>)</text>
<g font-size="11" fill="#111" style="font-kerning:none"><text x="473.4" y="223.5">PVA200-12</text><line x1="473.4" y1="230.4" x2="495.7" y2="230.4" stroke="#ff1c1c" stroke-width="1.6"/><text x="498.6" y="234.7">Analysis</text><line x1="473.4" y1="241.3" x2="495.6" y2="241.3" stroke="#1e98ff" stroke-width="1.45" stroke-dasharray="3 1.7"/><text x="498.6" y="245.6">1</text><line x1="473.4" y1="252.2" x2="495.6" y2="252.2" stroke="#2424ff" stroke-width="1.45" stroke-dasharray="3 1.7"/><text x="498.6" y="256.5">2</text><line x1="473.4" y1="263.1" x2="495.6" y2="263.1" stroke="#ff2090" stroke-width="1.45" stroke-dasharray="3 1.7"/><text x="498.6" y="267.4">3</text><line x1="473.4" y1="274" x2="495.6" y2="274" stroke="#1e98ff" stroke-width="1.45" stroke-dasharray="3 1.7"/><text x="498.6" y="278.3">4</text><line x1="473.4" y1="284.9" x2="495.6" y2="284.9" stroke="#9426ff" stroke-width="1.45" stroke-dasharray="3 1.7"/><text x="498.6" y="289.2">5</text></g></g>
<g><clipPath id="clipe"><rect x="35.5" y="414.6" width="217.9" height="155.4"/></clipPath>
<g clip-path="url(#clipe)" fill="none" stroke-linejoin="round">
<line x1="42.8" y1="414.6" x2="42.8" y2="570" stroke="#111" stroke-width="1.4"/>
<path d="M42.8 570C42.94 560.5 43.08 545.49 43.22 541.51C43.41 536.2 43.6 532.23 43.78 531.8C44.77 529.54 45.75 529.94 46.73 528.95C47.67 528 48.6 526.69 49.54 525.97C51.04 524.83 52.53 523.84 54.03 523.38C55.48 522.94 56.93 522.47 58.38 522.47C60.3 522.47 62.22 523.12 64.14 523.38C65.59 523.58 67.04 523.68 68.49 523.9C70.69 524.23 72.89 524.66 75.09 525.32C77.24 525.97 79.4 527.32 81.55 528.56C84.08 530.02 86.6 532.06 89.13 533.74C91.47 535.29 93.81 536.76 96.15 538.27C98.49 539.78 100.83 541.35 103.17 542.8C105.7 544.37 108.23 546.15 110.75 547.34C112.95 548.37 115.15 549.16 117.35 549.93C123.72 552.16 130.08 554.34 136.45 555.75C145.34 557.73 154.23 559.19 163.12 560.29C171.97 561.38 180.81 562.3 189.66 562.88C198.5 563.45 207.35 563.83 216.19 564.17C228.6 564.65 241 564.95 253.4 565.34" stroke="#ff90c8" stroke-width="1.45" stroke-dasharray="3 1.7"/>
<path d="M42.8 570C42.94 562.66 43.08 550.89 43.22 547.99C43.41 544.11 43.6 541.09 43.78 540.99C45.7 539.95 47.62 540.37 49.54 539.83C51.5 539.27 53.47 537.53 55.44 536.98C57.87 536.29 60.3 535.55 62.74 535.55C65.64 535.55 68.54 535.8 71.44 536.2C73.88 536.54 76.31 539.68 78.74 541.38C81.18 543.09 83.61 545.14 86.04 546.43C89.41 548.22 92.78 549.57 96.15 550.7C99.57 551.85 102.98 552.63 106.4 553.55C110.05 554.53 113.7 555.56 117.35 556.4C123.72 557.87 130.08 559.41 136.45 560.29C145.34 561.52 154.23 562.28 163.12 563.01C171.97 563.73 180.81 564.38 189.66 564.82C198.5 565.26 207.35 565.64 216.19 565.86C228.6 566.16 241 566.29 253.4 566.5" stroke="#9426ff" stroke-width="1.45" stroke-dasharray="3 1.7"/>
<path d="M42.8 570C42.94 561.37 43.08 547.5 43.22 544.1C43.41 539.57 43.6 535.94 43.78 535.94C46.68 535.94 49.59 535.94 52.49 535.94C55.44 535.94 58.38 535.55 61.33 535.55C63.72 535.55 66.11 535.83 68.49 536.2C70.46 536.51 72.42 538.2 74.39 539.18C76.78 540.36 79.16 541.59 81.55 542.68C84.5 544.02 87.45 545.34 90.4 546.43C93.3 547.5 96.2 548.45 99.1 549.28C102 550.11 104.9 550.74 107.81 551.48C110.99 552.29 114.17 553.09 117.35 553.94C123.72 555.64 130.08 558.15 136.45 559.25C145.34 560.79 154.23 561.53 163.12 562.49C171.97 563.45 180.81 564.6 189.66 565.08C210.91 566.24 232.15 566.55 253.4 567.28" stroke="#ff2424" stroke-width="1.45" stroke-dasharray="3 1.7"/>
<path d="M42.8 570C42.94 562.23 43.08 549.59 43.22 546.69C43.41 542.82 43.6 539.88 43.78 539.83C45.7 539.24 47.62 539.51 49.54 539.18C51.5 538.84 53.47 537.59 55.44 536.98C57.87 536.22 60.3 535.16 62.74 535.03C65.87 534.87 69.01 534.78 72.14 534.78C74.34 534.78 76.54 537.35 78.74 538.4C81.64 539.79 84.55 540.96 87.45 542.03C90.35 543.09 93.25 543.97 96.15 544.88C99.05 545.78 101.96 546.6 104.86 547.47C109.02 548.71 113.19 549.96 117.35 551.22C123.72 553.15 130.08 555.74 136.45 557.05C145.34 558.88 154.23 560.11 163.12 561.06C171.97 562.01 180.81 562.72 189.66 563.27C198.5 563.81 207.35 564.24 216.19 564.56C228.6 565.01 241 565.25 253.4 565.6" stroke="#2424ff" stroke-width="1.45" stroke-dasharray="3 1.7"/>
<path d="M42.8 570C44.91 564.82 47.01 559.67 49.12 554.46C50.99 549.83 52.86 544.57 54.73 540.47C56.04 537.61 57.35 534.67 58.67 532.7C60.26 530.32 61.85 527.91 63.44 527.01C66.01 525.54 68.59 524.29 71.16 524.29C73.31 524.29 75.47 524.85 77.62 525.45C79.82 526.06 82.02 528.13 84.22 529.47C86.93 531.11 89.65 532.78 92.36 534.39C95.64 536.33 98.91 538.49 102.19 540.09C105.47 541.68 108.74 543.02 112.02 544.23C115.29 545.44 118.57 546.44 121.85 547.47C124.56 548.32 127.27 549.24 129.99 549.93C132.14 550.47 134.29 550.91 136.45 551.35C145.34 553.19 154.23 555.05 163.12 556.4C171.97 557.75 180.81 558.88 189.66 559.77C198.5 560.66 207.35 561.42 216.19 561.97C228.6 562.74 241 563.18 253.4 563.78" stroke="#ff1c1c" stroke-width="1.5"/>
</g>
<rect x="35.5" y="414.6" width="217.9" height="155.4" fill="none" stroke="#2a2a2a" stroke-width="1.3"/>
<path d="M42.8 570v-4.5M42.8 414.6v4.5M56.84 570v-2.8M56.84 414.6v2.8M70.88 570v-2.8M70.88 414.6v2.8M84.92 570v-2.8M84.92 414.6v2.8M98.96 570v-2.8M98.96 414.6v2.8M113 570v-4.5M113 414.6v4.5M127.04 570v-2.8M127.04 414.6v2.8M141.08 570v-2.8M141.08 414.6v2.8M155.12 570v-2.8M155.12 414.6v2.8M169.16 570v-2.8M169.16 414.6v2.8M183.2 570v-4.5M183.2 414.6v4.5M197.24 570v-2.8M197.24 414.6v2.8M211.28 570v-2.8M211.28 414.6v2.8M225.32 570v-2.8M225.32 414.6v2.8M239.36 570v-2.8M239.36 414.6v2.8M253.4 570v-4.5M253.4 414.6v4.5M35.5 570h4.5M253.4 570h-4.5M35.5 557.05h2.8M253.4 557.05h-2.8M35.5 544.1h2.8M253.4 544.1h-2.8M35.5 531.15h2.8M253.4 531.15h-2.8M35.5 518.2h2.8M253.4 518.2h-2.8M35.5 505.25h4.5M253.4 505.25h-4.5M35.5 492.3h2.8M253.4 492.3h-2.8M35.5 479.35h2.8M253.4 479.35h-2.8M35.5 466.4h2.8M253.4 466.4h-2.8M35.5 453.45h2.8M253.4 453.45h-2.8M35.5 440.5h4.5M253.4 440.5h-4.5M35.5 427.55h2.8M253.4 427.55h-2.8M35.5 414.6h2.8M253.4 414.6h-2.8" stroke="#2a2a2a" stroke-width="1.1" fill="none"/>
<g font-size="11.5" fill="#111"><text x="42.8" y="580.5" text-anchor="middle">0</text><text x="113" y="580.5" text-anchor="middle">5</text><text x="183.2" y="580.5" text-anchor="middle">10</text><text x="253.4" y="580.5" text-anchor="middle">15</text><text x="33.9" y="573.7" text-anchor="end">0</text><text x="33.9" y="508.95" text-anchor="end">0.5</text><text x="33.9" y="444.2" text-anchor="end">1</text></g>
<text transform="translate(18.5 569.2) rotate(-90)" font-size="14" fill="#111">Bending moment (kN</text>
<circle cx="13.1" cy="437.9" r="1.3" fill="#111"/>
<text transform="translate(18.5 430.1) rotate(-90)" font-size="14" fill="#111">m)</text>
<text x="136.8" y="592.4" text-anchor="middle" font-size="12" fill="#111">CMOD (mm)</text>
<text x="132.1" y="610.5" text-anchor="middle" font-size="15" fill="#111">(<tspan font-weight="bold">e</tspan>)</text>
<g font-size="11" fill="#111" style="font-kerning:none"><text x="185" y="432.7">PVA200-18</text><line x1="187.2" y1="439.9" x2="210.1" y2="439.9" stroke="#ff1c1c" stroke-width="1.6"/><text x="213" y="444.2">Analysis</text><line x1="187.2" y1="450.95" x2="209.4" y2="450.95" stroke="#ff2424" stroke-width="1.45" stroke-dasharray="3 1.7"/><text x="213" y="455.25">1</text><line x1="187.2" y1="462" x2="209.4" y2="462" stroke="#2424ff" stroke-width="1.45" stroke-dasharray="3 1.7"/><text x="213" y="466.3">2</text><line x1="187.2" y1="473.05" x2="209.4" y2="473.05" stroke="#ff90c8" stroke-width="1.45" stroke-dasharray="3 1.7"/><text x="213" y="477.35">3</text><line x1="187.2" y1="484.1" x2="209.4" y2="484.1" stroke="#9426ff" stroke-width="1.45" stroke-dasharray="3 1.7"/><text x="213" y="488.4">4</text></g></g>
<g><clipPath id="clipf"><rect x="321.8" y="414.6" width="219.8" height="156.6"/></clipPath>
<g clip-path="url(#clipf)" fill="none" stroke-linejoin="round">
<line x1="329.3" y1="414.6" x2="329.3" y2="571.2" stroke="#111" stroke-width="1.4"/>
<path d="M329.3 571.2C329.39 562.5 329.49 549.94 329.58 545.1C329.68 540.26 329.77 535.59 329.87 535.05C331.14 527.73 332.41 528.08 333.69 526.31C335.24 524.15 336.8 522.94 338.36 521.74C340.91 519.78 343.45 517.81 346 517.04C349.11 516.1 352.23 515.22 355.34 515.22C357.89 515.22 360.44 515.42 362.98 515.74C365.01 515.99 367.04 517.81 369.07 519.39C371.15 521.01 373.22 524.14 375.3 526.31C377.37 528.48 379.45 530.35 381.53 532.44C383.55 534.48 385.58 536.97 387.61 538.71C389.69 540.48 391.76 541.6 393.84 543.27C396.39 545.33 398.93 549.49 401.48 550.19C402.99 550.6 404.5 550.64 406.01 550.97C408.42 551.5 410.82 552.57 413.23 553.32C417.62 554.69 422 556.15 426.39 557.24C435.17 559.4 443.94 561.42 452.72 562.59C461.54 563.76 470.36 564.58 479.18 565.2C487.96 565.81 496.73 566.39 505.51 566.63C517.82 566.97 530.14 567.07 542.45 567.29" stroke="#1e98ff" stroke-width="1.45" stroke-dasharray="3 1.7"/>
<path d="M329.3 571.2C329.39 562.5 329.49 550.07 329.58 545.1C329.68 540.13 329.77 535.11 329.87 534.66C331.66 526.02 333.45 526.17 335.24 524.74C337.84 522.67 340.43 521.93 343.03 520.96C345.58 520 348.12 518.61 350.67 518.61C352.7 518.61 354.73 518.61 356.76 518.61C358.83 518.61 360.91 521.25 362.98 522.52C365.53 524.09 368.08 525.72 370.63 527.09C373.22 528.48 375.82 529.49 378.41 530.88C381.48 532.51 384.55 534.68 387.61 536.36C390.73 538.06 393.84 539.72 396.95 541.05C399.97 542.35 402.99 543.56 406.01 544.45C409.27 545.4 412.52 545.89 415.78 546.8C421.06 548.26 426.34 550.65 431.63 552.15C438.66 554.14 445.69 556.02 452.72 557.24C461.54 558.77 470.36 559.96 479.18 560.76C487.96 561.56 496.73 561.97 505.51 562.59C517.82 563.45 530.14 564.33 542.45 565.2" stroke="#2424ff" stroke-width="1.45" stroke-dasharray="3 1.7"/>
<path d="M329.3 571.2C329.39 561.63 329.49 546.86 329.58 542.49C329.68 538.12 329.77 534.43 329.87 534.01C331.66 526.03 333.45 526.37 335.24 524.74C337.32 522.85 339.4 521.81 341.47 520.96C344.02 519.91 346.57 518.61 349.11 518.61C351.66 518.61 354.21 518.61 356.76 518.61C359.35 518.61 361.95 519.91 364.54 519.91C366.05 519.91 367.56 519.39 369.07 519.39C370.11 519.39 371.15 523.14 372.18 523.96C374.26 525.6 376.34 527.09 378.41 527.09C380.49 527.09 382.56 527.09 384.64 527.09C387.19 527.09 389.73 528.41 392.28 529.44C394.88 530.49 397.47 532.39 400.07 534.01C402.05 535.24 404.03 536.81 406.01 537.92C408.42 539.28 410.82 540.52 413.23 541.45C417.62 543.14 422 545.49 426.39 545.49C430.78 545.49 435.17 545.49 439.55 545.49C443.94 545.49 448.33 549.17 452.72 550.71C459.75 553.18 466.78 555.93 473.81 557.24C484.37 559.2 494.94 560.45 505.51 561.28C517.82 562.26 530.14 562.67 542.45 563.37" stroke="#ff2424" stroke-width="1.45" stroke-dasharray="3 1.7"/>
<path d="M329.3 571.2C329.39 558.15 329.49 539.51 329.58 532.05C329.68 524.59 329.77 517.53 329.87 516.39C330.62 507.27 331.38 506.91 332.13 504.65C333.69 499.98 335.24 496.8 336.8 495.51C339.35 493.4 341.9 492.89 344.44 491.73C347.51 490.32 350.58 488.96 353.64 487.81C356.76 486.64 359.87 485.27 362.98 484.68C364.54 484.38 366.1 484.03 367.66 484.03C369.17 484.03 370.67 485.31 372.18 486.24C374.26 487.53 376.34 489.98 378.41 491.73C380.96 493.87 383.51 494.93 386.05 497.86C387.61 499.65 389.17 503.05 390.73 506.34C391.76 508.54 392.8 511.47 393.84 514.04C394.88 516.61 395.92 520.04 396.95 521.74C398.46 524.21 399.97 525.85 401.48 527.09C403.61 528.84 405.73 529.19 407.85 531.01C410.49 533.27 413.13 539.15 415.78 542.75C419.32 547.58 422.85 552.43 426.39 556.06C428.14 557.85 429.88 560.56 431.63 560.76C438.66 561.56 445.69 561.38 452.72 561.8C461.54 562.34 470.36 563.35 479.18 563.89C487.96 564.43 496.73 564.93 505.51 565.2C517.82 565.57 530.14 565.72 542.45 565.98" stroke="#ff2090" stroke-width="1.45" stroke-dasharray="3 1.7"/>
<path d="M329.3 571.2C329.39 558.15 329.49 539.81 329.58 532.05C329.68 524.29 329.77 516.67 329.87 515.48C330.62 505.94 331.38 505.82 332.13 503.21C333.17 499.61 334.21 497.17 335.24 495.51C337.32 492.19 339.4 490.22 341.47 488.59C344.02 486.59 346.57 485.26 349.11 484.03C351.66 482.79 354.21 480.89 356.76 480.89C358.31 480.89 359.87 481.25 361.43 481.55C363.5 481.94 365.58 482.92 367.66 483.5C369.17 483.93 370.67 484.07 372.18 484.68C374.26 485.51 376.34 489.18 378.41 490.94C380.49 492.7 382.56 493.73 384.64 495.51C386.15 496.8 387.66 498.71 389.17 500.08C391.76 502.42 394.36 505.3 396.95 506.34C397.99 506.76 399.03 506.82 400.07 507.26C403.56 508.73 407.05 514.99 410.54 519.13C414.08 523.32 417.62 528.44 421.16 532.31C423.8 535.2 426.44 539.06 429.08 540.14C432.57 541.57 436.06 541.6 439.55 542.75C443.94 544.2 448.33 547.55 452.72 549.41C458.9 552.03 465.08 554.35 471.26 556.06C478.29 558 485.32 560 492.35 560.76C501.12 561.71 509.9 562.2 518.67 562.59C526.6 562.94 534.52 563.11 542.45 563.37" stroke="#2424ff" stroke-width="1.45" stroke-dasharray="3 1.7"/>
<path d="M329.3 571.2C331.14 565.85 332.98 560.62 334.82 555.15C336.28 550.8 337.74 546.68 339.21 541.84C340.29 538.25 341.38 533.69 342.46 530.09C343.12 527.91 343.78 525.7 344.44 523.96C345.39 521.47 346.33 519.23 347.27 517.56C348.5 515.41 349.73 513.49 350.95 512.34C352.13 511.24 353.31 510.21 354.49 509.87C355.96 509.44 357.42 509.08 358.88 509.08C360.34 509.08 361.81 509.51 363.27 509.87C364.73 510.22 366.19 510.88 367.66 511.56C369.35 512.35 371.05 513.57 372.75 514.56C374.69 515.7 376.62 516.73 378.55 517.96C381.01 519.51 383.46 521.64 385.91 523.05C389.26 524.96 392.61 526.32 395.96 527.87C399.26 529.4 402.57 530.84 405.87 532.31C408.32 533.4 410.78 534.53 413.23 535.57C417.62 537.44 422 539.32 426.39 540.92C430.83 542.55 435.26 544.07 439.7 545.36C444.08 546.64 448.47 547.8 452.86 548.75C458.99 550.08 465.12 551.11 471.26 552.15C478.29 553.33 485.32 554.66 492.35 555.41C501.12 556.34 509.9 557.01 518.67 557.5C526.64 557.94 534.62 558.19 542.59 558.54" stroke="#ff1c1c" stroke-width="1.5"/>
</g>
<rect x="321.8" y="414.6" width="219.8" height="156.6" fill="none" stroke="#2a2a2a" stroke-width="1.3"/>
<path d="M329.3 571.2v-4.5M329.3 414.6v4.5M343.45 571.2v-2.8M343.45 414.6v2.8M357.61 571.2v-2.8M357.61 414.6v2.8M371.76 571.2v-2.8M371.76 414.6v2.8M385.91 571.2v-2.8M385.91 414.6v2.8M400.07 571.2v-4.5M400.07 414.6v4.5M414.22 571.2v-2.8M414.22 414.6v2.8M428.37 571.2v-2.8M428.37 414.6v2.8M442.53 571.2v-2.8M442.53 414.6v2.8M456.68 571.2v-2.8M456.68 414.6v2.8M470.83 571.2v-4.5M470.83 414.6v4.5M484.99 571.2v-2.8M484.99 414.6v2.8M499.14 571.2v-2.8M499.14 414.6v2.8M513.29 571.2v-2.8M513.29 414.6v2.8M527.45 571.2v-2.8M527.45 414.6v2.8M541.6 571.2v-4.5M541.6 414.6v4.5M321.8 571.2h4.5M541.6 571.2h-4.5M321.8 558.15h2.8M541.6 558.15h-2.8M321.8 545.1h2.8M541.6 545.1h-2.8M321.8 532.05h2.8M541.6 532.05h-2.8M321.8 519h2.8M541.6 519h-2.8M321.8 505.95h4.5M541.6 505.95h-4.5M321.8 492.9h2.8M541.6 492.9h-2.8M321.8 479.85h2.8M541.6 479.85h-2.8M321.8 466.8h2.8M541.6 466.8h-2.8M321.8 453.75h2.8M541.6 453.75h-2.8M321.8 440.7h4.5M541.6 440.7h-4.5M321.8 427.65h2.8M541.6 427.65h-2.8M321.8 414.6h2.8M541.6 414.6h-2.8" stroke="#2a2a2a" stroke-width="1.1" fill="none"/>
<g font-size="11.5" fill="#111"><text x="329.3" y="581.7" text-anchor="middle">0</text><text x="400.07" y="581.7" text-anchor="middle">5</text><text x="470.83" y="581.7" text-anchor="middle">10</text><text x="541.6" y="581.7" text-anchor="middle">15</text><text x="320.2" y="574.9" text-anchor="end">0</text><text x="320.2" y="509.65" text-anchor="end">0.5</text><text x="320.2" y="444.4" text-anchor="end">1</text></g>
<text transform="translate(306.5 570.5) rotate(-90)" font-size="14" fill="#111">Bending moment (kN</text>
<circle cx="301.3" cy="441.8" r="1.3" fill="#111"/>
<text transform="translate(306.5 434.5) rotate(-90)" font-size="14" fill="#111">m)</text>
<text x="422.5" y="592.7" text-anchor="middle" font-size="12" fill="#111">CMOD (mm)</text>
<text x="420.5" y="610.5" text-anchor="middle" font-size="15" fill="#111">(<tspan font-weight="bold">f</tspan>)</text>
<g font-size="11" fill="#111" style="font-kerning:none"><text x="474.2" y="430.2">PVA660-30</text><line x1="474.4" y1="436.7" x2="496.8" y2="436.7" stroke="#ff1c1c" stroke-width="1.6"/><text x="499.7" y="441">Analysis</text><line x1="474.4" y1="447.8" x2="496.6" y2="447.8" stroke="#ff2424" stroke-width="1.45" stroke-dasharray="3 1.7"/><text x="499.7" y="452.1">1</text><line x1="474.4" y1="458.9" x2="496.6" y2="458.9" stroke="#ff2090" stroke-width="1.45" stroke-dasharray="3 1.7"/><text x="499.7" y="463.2">2</text><line x1="474.4" y1="470" x2="496.6" y2="470" stroke="#2424ff" stroke-width="1.45" stroke-dasharray="3 1.7"/><text x="499.7" y="474.3">3</text><line x1="474.4" y1="481.1" x2="496.6" y2="481.1" stroke="#1e98ff" stroke-width="1.45" stroke-dasharray="3 1.7"/><text x="499.7" y="485.4">4</text><line x1="474.4" y1="492.2" x2="496.6" y2="492.2" stroke="#2424ff" stroke-width="1.45" stroke-dasharray="3 1.7"/><text x="499.7" y="496.5">5</text></g></g>
</g>
</svg>
</body></html>
